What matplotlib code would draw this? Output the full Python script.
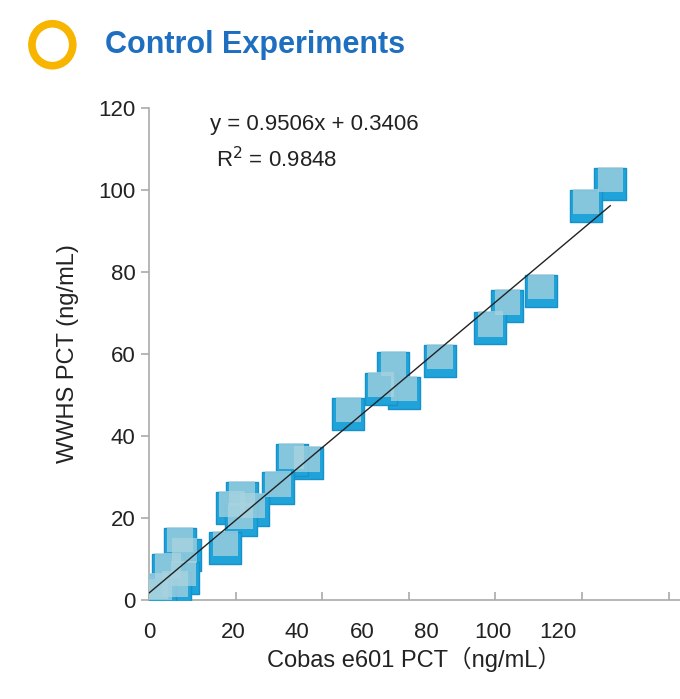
import numpy as np
import matplotlib.pyplot as plt
from matplotlib.patches import Circle
from matplotlib.transforms import blended_transform_factory

plt.rcParams["font.family"] = ["Liberation Sans", "Noto Sans CJK SC", "Noto Sans CJK JP", "DejaVu Sans"]

# Cobas e601 vs WWHS PCT readings (ng/mL)
cobas = [106.5, 100.9, 90.5, 82.7, 78.8, 67.2, 56.4, 58.9, 53.6, 46.0, 36.5, 33.0, 29.8,
         24.0, 21.5, 19.2, 21.2, 17.6, 8.3, 7.2, 7.9, 4.4, 6.0, 1.4, 2.5]
wwhs = [101.5, 96.1, 75.4, 71.7, 66.3, 58.3, 56.6, 50.5, 51.5, 45.4, 33.4, 34.1, 27.3,
        22.0, 24.9, 22.4, 19.5, 12.7, 11.0, 13.7, 5.4, 7.3, 2.9, 2.4, 1.0]
x_ticks = [0, 20, 40, 60, 80, 100, 120]
x_tick_labels = ["0", "20", "40", "60", "80", "100", "120"]
# the printed labels drift left of their tick marks in the original
x_label_pos = [0, 19.4, 34.2, 49.2, 64.0, 79.4, 94.5]
y_ticks = [0, 20, 40, 60, 80, 100, 120]
equation = "y = 0.9506x + 0.3406"
r_squared = "R$^2$ = 0.9848"

fig = plt.figure(figsize=(6.8, 6.99), dpi=100)
fig.patch.set_facecolor("white")

# title with the orange ring
ring = Circle((0.077, 0.936), 0.03, transform=fig.transFigure, fill=False,
              edgecolor="#f7b500", linewidth=5.5)
fig.patches.append(ring)
fig.text(0.155, 0.936, "Control Experiments", fontsize=22, fontweight="bold",
         color="#1f6fc0", va="center")

ax = fig.add_axes([0.219, 0.1416, 0.781, 0.704])
ax.set_xlim(0, 122.6)
ax.set_ylim(0, 120)
for side in ["top", "right"]:
    ax.spines[side].set_visible(False)
for side in ["left", "bottom"]:
    ax.spines[side].set_color("#aaaaaa")
    ax.spines[side].set_linewidth(1.2)
ax.set_xticks(x_ticks)
ax.set_xticklabels([])
ax.set_yticks(y_ticks)
ax.tick_params(colors="#aaaaaa", labelcolor="#222222", labelsize=16, length=6, width=1.2)
ax.tick_params(axis="x", direction="in")
ax.tick_params(axis="y", direction="out")

trans = blended_transform_factory(ax.transData, ax.transAxes)
for pos, lab in zip(x_label_pos, x_tick_labels):
    ax.text(pos, -0.045, lab, transform=trans, ha="center", va="top",
            fontsize=16, color="#222222")

# squares: darker base plus lighter top part for a gradient look
ax.scatter(cobas, wwhs, marker="s", s=520, facecolor="#1fa3d8", edgecolor="#1591cc",
           linewidth=1, zorder=3)
ax.scatter(cobas, np.array(wwhs) + 1.0, marker="s", s=330, facecolor="#a9d3df",
           edgecolor="none", alpha=0.75, zorder=4)

slope, intercept = np.polyfit(cobas, wwhs, 1)
xs = np.array([0, max(cobas)])
ax.plot(xs, slope * xs + intercept, color="#222222", linewidth=1, zorder=5)

ax.text(14, 116, equation, fontsize=16, color="#222222", va="center")
ax.text(15.5, 107.5, r_squared, fontsize=16, color="#222222", va="center")

ax.set_xlabel("Cobas e601 PCT（ng/mL）", fontsize=17, color="#222222", labelpad=30)
ax.set_ylabel("WWHS PCT (ng/mL)", fontsize=17, color="#222222", labelpad=14)

fig.savefig("out.png", dpi=100, facecolor="white")
